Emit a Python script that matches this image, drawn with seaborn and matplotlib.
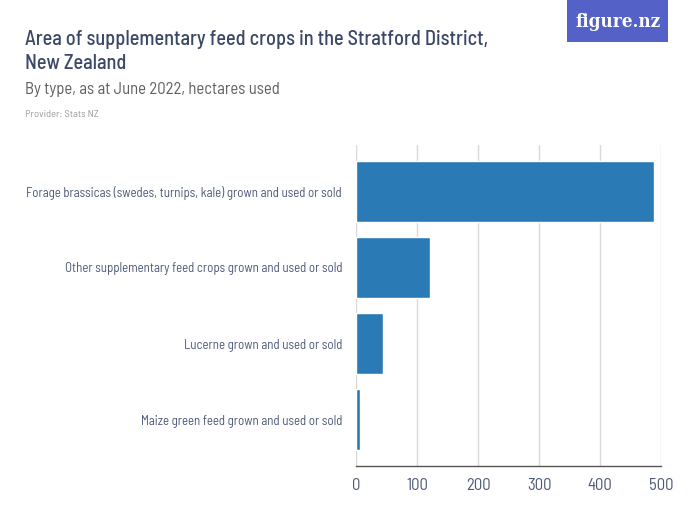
import matplotlib
matplotlib.use("Agg")
import matplotlib.pyplot as plt
import pandas as pd
import seaborn as sns
from matplotlib.patches import Rectangle

CROP_TYPES = [
    "Forage brassicas (swedes, turnips, kale) grown and used or sold",
    "Other supplementary feed crops grown and used or sold",
    "Lucerne grown and used or sold",
    "Maize green feed grown and used or sold",
]
HECTARES = [488, 121, 45, 7]
X_TICKS = [0, 100, 200, 300, 400, 500]

TEXT_DARK = "#3b4766"
TICK_COLOR = "#4f5a7a"
BAR_COLOR = "#2a7ab5"
GRID_COLOR = "#d9d9d9"

sns.set_theme(style="white")
plt.rcParams["font.family"] = ["Barlow Semi Condensed", "Roboto", "DejaVu Sans"]

df = pd.DataFrame({"crop": CROP_TYPES, "hectares": HECTARES})

fig = plt.figure(figsize=(7, 5.25), dpi=100)
ax = fig.add_axes([356 / 700, 1 - 466 / 525, 305 / 700, 321 / 525])

sns.barplot(data=df, x="hectares", y="crop", order=CROP_TYPES,
            color=BAR_COLOR, saturation=1, width=0.8, ax=ax, zorder=3)

ax.set_xlim(0, 500)
ax.set_ylim(3.61, -0.61)
ax.set_xticks(X_TICKS)
ax.set_xlabel("")
ax.set_ylabel("")
ax.grid(axis="x", color=GRID_COLOR, linewidth=1, zorder=0)
ax.grid(axis="y", visible=False)
for side in ["top", "right", "left"]:
    ax.spines[side].set_visible(False)
ax.spines["bottom"].set_color("#555555")
ax.spines["bottom"].set_linewidth(1)
ax.tick_params(axis="x", colors="#555555", length=5, width=1, labelsize=12,
               labelcolor=TICK_COLOR, pad=4)
ax.tick_params(axis="y", length=0, labelsize=9.3, labelcolor=TICK_COLOR, pad=10)

# header text
fig.text(25 / 700, 1 - 45 / 525, "Area of supplementary feed crops in the Stratford District,",
         fontsize=14.6, color=TEXT_DARK, va="baseline", fontweight="medium")
fig.text(25 / 700, 1 - 69 / 525, "New Zealand",
         fontsize=14.6, color=TEXT_DARK, va="baseline", fontweight="medium")
fig.text(25 / 700, 1 - 94 / 525, "By type, as at June 2022, hectares used",
         fontsize=12, color="#606060", va="baseline")
fig.text(25 / 700, 1 - 117 / 525, "Provider: Stats NZ",
         fontsize=7.5, color="#9a9a9a", va="baseline")

# logo
fig.patches.append(Rectangle((567 / 700, 1 - 42 / 525), 101 / 700, 42 / 525,
                             transform=fig.transFigure, facecolor="#5462c8",
                             edgecolor="none"))
fig.text(618 / 700, 1 - 22 / 525, "figure.nz", fontsize=13.5, color="white",
         ha="center", va="center", family=["DejaVu Serif"], fontweight="bold",
         fontstretch="condensed")

fig.savefig("out.png", dpi=100)
